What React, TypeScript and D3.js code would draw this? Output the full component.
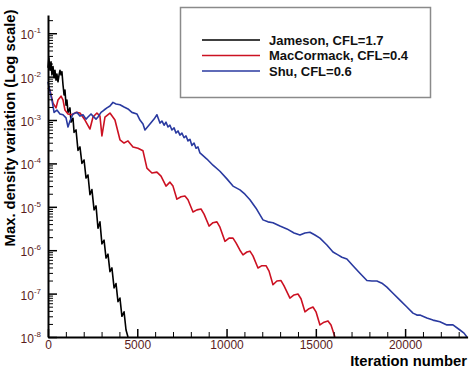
import React, { useEffect, useRef } from 'react';
import * as d3 from 'd3';

// [iteration, max density variation]
const jameson: [number, number][] = [
  [0, 1.6e-2], [50, 2.7e-2], [110, 1.4e-2], [170, 2.2e-2], [220, 1.1e-2], [280, 1.7e-2],
  [340, 9.3e-3], [390, 1.4e-2], [450, 8.3e-3], [500, 1.15e-2], [560, 7.6e-3], [620, 1.1e-2],
  [670, 1.4e-2], [730, 1.1e-2], [780, 1.3e-2], [840, 6.5e-3], [900, 3.8e-3], [950, 4.9e-3],
  [1010, 2.2e-3], [1060, 2.9e-3], [1120, 1.5e-3], [1230, 1.9e-3], [1290, 8.9e-4], [1400, 1.1e-3],
  [1460, 5.2e-4], [1570, 5.9e-4], [1680, 2.0e-4], [1790, 2.4e-4], [1900, 1.0e-4], [2020, 1.2e-4],
  [2130, 4.6e-5], [2240, 5.4e-5], [2350, 1.9e-5], [2460, 2.5e-5], [2580, 8.5e-6], [2690, 1.05e-5],
  [2800, 3.2e-6], [2910, 4.5e-6], [3020, 1.4e-6], [3140, 1.7e-6], [3250, 6.6e-7], [3360, 8.1e-7],
  [3470, 3.2e-7], [3580, 3.9e-7], [3700, 1.35e-7], [3810, 1.7e-7], [3920, 6.5e-8], [4030, 7.9e-8],
  [4140, 3.0e-8], [4260, 3.8e-8], [4370, 1.45e-8], [4480, 1e-8],
];

const macCormack: [number, number][] = [
  [0, 5.5e-3], [110, 4.9e-3], [280, 2.45e-3], [450, 1.9e-3], [560, 2.9e-3], [730, 3.55e-3],
  [840, 2.9e-3], [950, 1.7e-3], [1120, 1.38e-3], [1340, 1.32e-3], [1570, 1.5e-3], [1790, 1.45e-3],
  [2070, 1.0e-3], [2350, 6.2e-4], [2520, 1.17e-3], [2740, 1.45e-3], [2910, 1.23e-3], [3020, 4.3e-4],
  [3190, 1.17e-3], [3470, 1.45e-3], [3750, 1.0e-3], [4030, 3.5e-4], [4260, 2.95e-4], [4480, 3.3e-4],
  [4760, 2.4e-4], [5040, 2.24e-4], [5320, 1.95e-4], [5540, 7.8e-5], [5820, 6.0e-5], [6100, 6.3e-5],
  [6330, 5.1e-5], [6610, 3.0e-5], [6830, 3.7e-5], [7000, 3.0e-5], [7220, 1.5e-5], [7450, 1.7e-5],
  [7670, 1.78e-5], [7840, 1.45e-5], [8120, 7.6e-6], [8340, 8.5e-6], [8570, 8.9e-6], [8740, 6.8e-6],
  [9020, 3.6e-6], [9240, 4.3e-6], [9460, 4.5e-6], [9630, 3.4e-6], [9910, 1.6e-6], [10140, 1.9e-6],
  [10360, 1.9e-6], [10530, 1.48e-6], [10750, 1.0e-6], [10920, 7.8e-7], [11140, 9.1e-7], [11310, 9.5e-7],
  [11480, 7.4e-7], [11760, 3.9e-7], [11980, 4.4e-7], [12210, 4.4e-7], [12380, 3.3e-7], [12600, 1.6e-7],
  [12820, 1.95e-7], [13050, 2.0e-7], [13220, 1.5e-7], [13550, 7.9e-8], [13780, 9.3e-8], [14000, 9.8e-8],
  [14170, 7.6e-8], [14390, 3.8e-8], [14620, 4.5e-8], [14840, 4.9e-8], [15010, 3.8e-8], [15230, 1.9e-8],
  [15460, 2.2e-8], [15680, 2.35e-8], [15850, 1.9e-8], [16070, 1e-8],
];

const shu: [number, number][] = [
  [0, 7.6e-3], [60, 5.75e-3], [220, 2.9e-3], [340, 1.5e-3], [500, 1.7e-3], [670, 1.38e-3],
  [840, 1.32e-3], [1010, 1.12e-3], [1120, 6.9e-4], [1230, 9.5e-4], [1400, 1.38e-3], [1620, 1.5e-3],
  [1790, 1.23e-3], [1960, 1.32e-3], [2130, 1.05e-3], [2240, 1.17e-3], [2410, 1.38e-3], [2520, 1.23e-3],
  [2690, 1.05e-3], [2800, 1.17e-3], [2970, 1.5e-3], [3140, 1.7e-3], [3300, 1.9e-3], [3470, 2.1e-3],
  [3640, 2.55e-3], [3810, 2.35e-3], [4030, 2.25e-3], [4260, 2.0e-3], [4480, 1.8e-3], [4700, 1.5e-3],
  [4980, 1.38e-3], [5150, 1.0e-3], [5320, 8.1e-4], [5430, 5.9e-4], [5710, 8.1e-4], [5940, 1.05e-3],
  [6100, 1.32e-3], [6270, 8.5e-4], [6380, 9.5e-4], [6500, 7.6e-4], [6610, 8.9e-4], [6720, 6.9e-4],
  [6830, 7.6e-4], [6940, 5.9e-4], [7060, 6.6e-4], [7170, 5.0e-4], [7280, 5.6e-4], [7390, 4.5e-4],
  [7500, 5.0e-4], [7620, 3.9e-4], [7730, 4.3e-4], [7840, 3.3e-4], [7950, 3.6e-4], [8060, 2.6e-4],
  [8180, 2.95e-4], [8290, 2.24e-4], [8400, 2.4e-4], [8510, 1.74e-4], [8900, 1.26e-4], [9240, 9.1e-5],
  [9630, 6.6e-5], [10020, 4.4e-5], [10360, 3.0e-5], [10750, 2.45e-5], [11030, 1.95e-5], [11310, 1.45e-5],
  [11650, 9.3e-6], [12040, 5.0e-6], [12320, 4.5e-6], [12600, 4.3e-6], [12990, 3.6e-6], [13380, 3.1e-6],
  [13780, 2.5e-6], [14110, 2.24e-6], [14390, 2.5e-6], [14670, 2.6e-6], [14950, 2.24e-6], [15230, 1.9e-6],
  [15620, 1.32e-6], [15960, 9.1e-7], [16240, 7.8e-7], [16460, 6.9e-7], [16740, 6.3e-7], [17080, 4.4e-7],
  [17470, 2.95e-7], [17860, 2.0e-7], [18140, 1.95e-7], [18420, 1.95e-7], [18700, 1.74e-7], [18980, 1.41e-7],
  [19320, 1.02e-7], [19710, 7.1e-8], [20100, 4.9e-8], [20440, 3.55e-8], [20660, 3.2e-8], [20830, 3.2e-8],
  [21220, 2.75e-8], [21560, 2.45e-8], [21950, 2.24e-8], [22340, 1.9e-8], [22680, 1.9e-8], [23070, 1.45e-8],
  [23300, 1.23e-8], [23460, 1e-8],
];

const seriesNames = ['Jameson, CFL=1.7', 'MacCormack, CFL=0.4', 'Shu, CFL=0.6'];
const seriesColors = ['#000000', '#cc1122', '#2a3aa0'];
const xMajorTicks = [0, 5000, 10000, 15000, 20000];
const yExponents = [-8, -7, -6, -5, -4, -3, -2, -1];

const width = 474;
const height = 367;
const left = 48;
const right = 467.6;
const top = 15;
const bottom = 337;

export default function App() {
  const svgRef = useRef<SVGSVGElement>(null);

  useEffect(() => {
    const svg = d3.select(svgRef.current);
    svg.selectAll('*').remove();

    const x = d3.scaleLinear().domain([0, 23500]).range([left, right]);
    const y = d3.scaleLog().domain([1e-8, Math.pow(10, -0.58)]).range([bottom, top]);

    const line = d3.line<[number, number]>()
      .x(d => x(d[0]))
      .y(d => y(d[1]));

    const allSeries = [jameson, macCormack, shu];

    svg.append('g')
      .selectAll('path')
      .data(allSeries)
      .join('path')
        .attr('d', d => line(d))
        .attr('fill', 'none')
        .attr('stroke', (d, i) => seriesColors[i])
        .attr('stroke-width', 1.6)
        .attr('stroke-linejoin', 'round');

    // y axis: minor ticks, major ticks, inside
    const yMinor: number[] = [];
    yExponents.forEach(e => {
      for (let m = 2; m <= 9; m++) {
        const v = m * Math.pow(10, e);
        if (v <= y.domain()[1]) yMinor.push(v);
      }
    });
    const yMajor = yExponents.map(e => Math.pow(10, e));

    svg.append('g')
      .attr('transform', `translate(${left}, 0)`)
      .call(d3.axisLeft(y).tickValues(yMinor).tickSizeInner(-5).tickSizeOuter(0).tickFormat(() => ''))
      .call(g => g.select('.domain').remove());

    const yAx = svg.append('g')
      .attr('transform', `translate(${left}, 0)`)
      .call(d3.axisLeft(y).tickValues(yMajor).tickSizeInner(-9).tickSizeOuter(0).tickPadding(7).tickFormat(() => ''));
    yAx.selectAll('line').attr('stroke-width', 1.5);
    yAx.select('.domain').attr('stroke-width', 2);
    yAx.selectAll<SVGTextElement, number>('text')
      .attr('font-family', 'Arial, "Liberation Sans", sans-serif')
      .attr('font-size', 12)
      .attr('fill', '#5a1c1c')
      .attr('dy', '0.45em')
      .each(function (d) {
        const t = d3.select(this);
        t.append('tspan').text('10');
        t.append('tspan').attr('font-size', 8).attr('dy', '-0.75em').text(String(Math.round(Math.log10(d))));
      });

    // x axis
    const xMinor = d3.range(1000, 23500, 1000).filter(v => v % 5000 !== 0);
    svg.append('g')
      .attr('transform', `translate(0, ${bottom})`)
      .call(d3.axisBottom(x).tickValues(xMinor).tickSizeInner(-5).tickSizeOuter(0).tickFormat(() => ''))
      .call(g => g.select('.domain').remove());

    const xAx = svg.append('g')
      .attr('transform', `translate(0, ${bottom})`)
      .call(d3.axisBottom(x).tickValues(xMajorTicks).tickSizeInner(-8).tickSizeOuter(0).tickPadding(3).tickFormat(d3.format('d')));
    xAx.selectAll('line').attr('stroke-width', 1.5);
    xAx.select('.domain').attr('stroke-width', 2);
    xAx.selectAll('text')
      .attr('font-family', 'Arial, "Liberation Sans", sans-serif')
      .attr('font-size', 12)
      .attr('fill', '#5a1c1c');

    // axis titles
    svg.append('text')
      .attr('transform', `translate(15, 128) rotate(-90)`)
      .attr('text-anchor', 'middle')
      .attr('font-family', 'Arial, "Liberation Sans", sans-serif')
      .attr('font-weight', 'bold')
      .attr('font-size', 14.8)
      .text('Max. density variation (Log scale)');

    svg.append('text')
      .attr('x', 467)
      .attr('y', 365.5)
      .attr('text-anchor', 'end')
      .attr('font-family', 'Arial, "Liberation Sans", sans-serif')
      .attr('font-weight', 'bold')
      .attr('font-size', 14.8)
      .text('Iteration number');

    // legend
    const legend = svg.append('g');
    legend.append('rect')
      .attr('x', 180.5).attr('y', 7.5)
      .attr('width', 250).attr('height', 90)
      .attr('fill', 'white')
      .attr('stroke', '#8a8a8a')
      .attr('stroke-width', 1.5);

    const rows = legend.selectAll('g.row')
      .data(seriesNames)
      .join('g')
        .attr('class', 'row')
        .attr('transform', (d, i) => `translate(0, ${40 + i * 15.5})`);
    rows.append('line')
      .attr('x1', 202).attr('x2', 260)
      .attr('stroke', (d, i) => seriesColors[i])
      .attr('stroke-width', 1.6);
    rows.append('text')
      .attr('x', 269)
      .attr('dy', '0.36em')
      .attr('font-family', 'Arial, "Liberation Sans", sans-serif')
      .attr('font-weight', 'bold')
      .attr('font-size', 13)
      .attr('fill', '#111')
      .text(d => d);
  }, []);

  return (
    <svg
      ref={svgRef}
      width={width}
      height={height}
      style={{ position: 'absolute', left: 0, top: 0, background: 'white' }}
    />
  );
}
